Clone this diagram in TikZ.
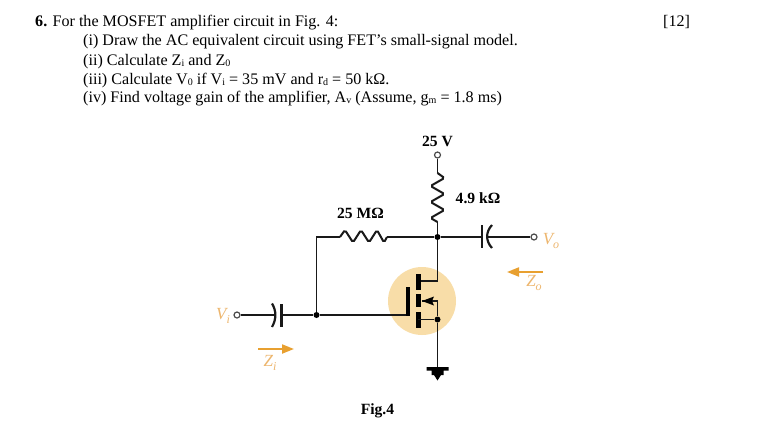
\documentclass[tikz,border=0pt]{standalone}
\usepackage{fontspec}
\setmainfont{Liberation Serif}
\usetikzlibrary{arrows.meta}
\definecolor{orng}{HTML}{E8A030}
\definecolor{lorng}{HTML}{EDB66E}
\definecolor{halo}{HTML}{F8DDA8}
\newcommand{\sbs}[1]{\raisebox{-0.22ex}{\fontsize{10}{10}\selectfont #1}}
\newcommand{\osb}[1]{\raisebox{-0.45ex}{\fontsize{12}{12}\selectfont #1}}
\tikzset{
  x=1pt,y=-1pt,
  txt/.style={anchor=base west,inner sep=0,font=\fontsize{16.1}{18}\selectfont},
  lbl/.style={inner sep=0,font=\fontsize{15.6}{17}\selectfont\bfseries},
  wire/.style={line width=1.5pt,black!90},
  rwire/.style={line width=2pt,black!90,rounded corners=1.8pt},
  plate/.style={line width=2.3pt,black!90},
  term/.style={circle,draw=black!70,fill=white,line width=1.2pt,minimum size=6pt,inner sep=0},
  junc/.style={circle,fill=black,minimum size=6pt,inner sep=0},
  zarrow/.style={draw=orng,line width=2pt,-{Triangle[length=12pt,width=9pt]}},
  olbl/.style={inner sep=0,text=lorng,font=\fontsize{17}{19}\selectfont\itshape},
  bar/.style={fill=black,draw=none},
}
\begin{document}
\begin{tikzpicture}
\useasboundingbox (0,0) rectangle (760,447);
\fill[white] (0,0) rectangle (760,447);
% question text
\node[txt] (q0) at (35,26) {\textbf{6.} For the MOSFET amplifier circuit in Fig. 4:};
\node[txt] (q1) at (83,45.5) {(i) Draw the AC equivalent circuit using FET’s small-signal model.};
\node[txt] (q2) at (83,65) {(ii) Calculate Z\sbs{i} and Z\sbs{0}};
\node[txt] (q3) at (83,84) {(iii) Calculate V\sbs{0} if V\sbs{i} = 35 mV and r\sbs{d} = 50 kΩ.};
\node[txt] (q4) at (83,102) {(iv) Find voltage gain of the amplifier, A\sbs{v} (Assume, g\sbs{m} = 1.8 ms)};
\node[txt] (mk) at (663,26) {[12]};
% halo
\node[circle,fill=halo,minimum size=68pt,inner sep=0] (halo) at (422,301) {};
% named points
\node[term] (vdd) at (437.5,155) {};
\node[term] (vi) at (237,315) {};
\node[term] (vo) at (534,237) {};
\node[junc] (jd) at (437.5,237) {};
\node[junc] (jg) at (316.5,315) {};
\node[junc] (js) at (437.5,319.5) {};
\coordinate (rdt) at (437.5,173);
\coordinate (rdb) at (437.5,222);
\coordinate (rfl) at (340,237);
\coordinate (rfr) at (387,237);
\coordinate (ctl) at (316.5,237);
\coordinate (cil) at (275,315);
\coordinate (cir) at (281.5,315);
\coordinate (col) at (482,237);
\coordinate (cor) at (487,237);
\coordinate (gate) at (407.5,315);
\coordinate (dr) at (437.5,281);
\coordinate (dc) at (418,281);
\coordinate (sr) at (437.5,301);
\coordinate (sc) at (422,301);
\coordinate (bc) at (418,319.5);
\coordinate (gnd) at (437.5,367);
% wires
\draw[wire] (vdd) -- (rdt);
\draw[rwire] (rdt) -- ++(7,5) -- ++(-14,8) -- ++(14,8) -- ++(-14,8) -- ++(14,8) -- ++(-14,8) -- (rdb);
\draw[wire] (rdb) -- (jd);
\draw[wire,line join=miter] (jd) -- (dr) -- (dc);
\draw[wire,line join=miter] (jg) -- (ctl) -- (rfl);
\draw[rwire] (rfl) -- ++(5,-7) -- ++(8,12.5) -- ++(8,-12.5) -- ++(8,12.5) -- ++(8,-12.5) -- ++(7,12.5) -- (rfr);
\draw[wire] (rfr) -- (jd);
\draw[wire] (jd) -- (col);
\draw[wire] (cor) -- (vo);
\draw[wire] (vi) -- (cil);
\draw[wire] (cir) -- (jg) -- (gate);
% capacitors
\draw[line width=2.2pt,black!90] (272,303.5) .. controls (276.5,311) and (276.5,319) .. (272,327);
\draw[plate] (281.5,304) -- (281.5,326.5);
\draw[plate] (482,225) -- (482,247.5);
\draw[line width=2.2pt,black!90] (492,225) .. controls (485.5,232) and (485.5,241) .. (492,248);
% MOSFET
\fill[bar] (405.5,286.5) rectangle (410,316);
\fill[bar] (415.5,274) rectangle (421,290);
\fill[bar] (415.5,294) rectangle (421,307);
\fill[bar] (415.5,312) rectangle (421,328);
\draw[wire] (sr) -- (sc);
\fill[black] (sc) -- (434,296.5) -- (432,301) -- (434,305.5) -- cycle;
\draw[wire] (sr) -- (js);
\draw[wire] (bc) -- (js);
\draw[wire] (js) -- (gnd);
% ground
\fill[black] (426.5,367) -- (448.5,367) -- (448.5,370.5) -- (443.5,370.5) -- (443.5,375) -- (441,375) -- (437.5,380.5) -- (434,375) -- (431.5,375) -- (431.5,370.5) -- (426.5,370.5) -- cycle;
% labels
\node[lbl] (l25v) at (437.5,141) {25 V};
\node[lbl] (l49) at (478,198) {4.9 kΩ};
\node[lbl] (l25m) at (360.5,213.5) {25 MΩ};
\node[lbl] (fig) at (377.5,411) {Fig.4};
\node[olbl] (lvi) at (223,316) {V\osb{i}};
\node[olbl] (lvo) at (551,241) {V\osb{o}};
\node[olbl] (lzi) at (270,363) {Z\osb{i}};
\node[olbl] (lzo) at (534,283) {Z\osb{o}};
\coordinate (zia) at (258,349);
\coordinate (zib) at (294,349);
\coordinate (zoa) at (543,272);
\coordinate (zob) at (507,272);
\draw[zarrow] (zia) -- (zib);
\draw[zarrow] (zoa) -- (zob);
\end{tikzpicture}
\end{document}
